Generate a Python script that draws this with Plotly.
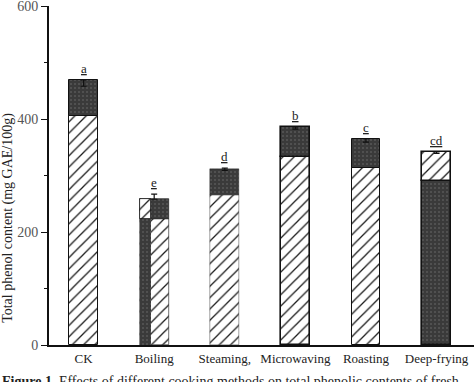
import plotly.graph_objects as go

categories = ["CK", "Boiling", "Steaming,", "Microwaving", "Roasting", "Deep-frying"]
lower_part = [405, 223, 266, 333, 313, 290]
total = [469, 258, 311, 386, 365, 342]
err_up = [0, 9, 2, 0, 0, 0]
err_down = [11, 0, 2, 4, 6, 3]
letters = ["a", "e", "d", "b", "c", "cd"]
# style of each segment: "h" = hatched, "d" = dark dotted
lower_style = ["h", "h", "h", "h", "h", "d"]
upper_style = ["d", "d", "d", "d", "d", "h"]
# Boiling left strip: dark lower, hatched upper
boil_left_lower = [223]
boil_left_total = [258]

upper_part = [t - l for t, l in zip(total, lower_part)]

DARK_BG = "#3a3a3a"
DARK_FG = "#575757"


def style(kinds):
    shapes = ["/" if k == "h" else "." for k in kinds]
    fg = ["#1a1a1a" if k == "h" else DARK_FG for k in kinds]
    bg = ["white" if k == "h" else DARK_BG for k in kinds]
    size = [8 if k == "h" else 4 for k in kinds]
    sol = [0.16 if k == "h" else 0.2 for k in kinds]
    return dict(shape=shapes, fgcolor=fg, bgcolor=bg, size=size, solidity=sol, fillmode="replace")


BW = 0.41
line_w = [1, 0.6, 0.4, 1.6, 1, 1.6]

fig = go.Figure()
fig.add_trace(go.Bar(
    x=categories, y=lower_part, base=[0] * 6, width=BW,
    marker=dict(color="white", pattern=style(lower_style),
                line=dict(color="#111", width=line_w)),
    showlegend=False,
))
fig.add_trace(go.Bar(
    x=categories, y=upper_part, base=lower_part, width=BW,
    marker=dict(color=DARK_BG, pattern=style(upper_style),
                line=dict(color="#111", width=line_w)),
    error_y=dict(type="data", symmetric=False, array=err_up, arrayminus=err_down,
                 color="#111", thickness=1.2, width=3),
    showlegend=False,
))
# Boiling left strip overlays
fig.add_trace(go.Bar(
    x=["Boiling"], y=boil_left_lower, base=[0], width=[0.155], offset=[-0.205],
    marker=dict(color=DARK_BG, pattern=style(["d"]), line=dict(width=0)),
    showlegend=False,
))
fig.add_trace(go.Bar(
    x=["Boiling"], y=[t - l for t, l in zip(boil_left_total, boil_left_lower)],
    base=boil_left_lower, width=[0.155], offset=[-0.205],
    marker=dict(color="white", pattern=style(["h"]), line=dict(color="#111", width=0.8)),
    showlegend=False,
))

for c, t, e, lt in zip(categories, total, err_up, letters):
    fig.add_annotation(x=c, y=t + e, text="<u>" + lt + "</u>", showarrow=False,
                       yanchor="bottom", yshift=2,
                       font=dict(family="Liberation Serif", size=13, color="#222"))

fig.add_annotation(xref="paper", yref="paper", x=-0.0965, y=0.375,
                   text="Total phenol content (mg GAE/100g)", textangle=-90,
                   showarrow=False, xanchor="center", yanchor="middle",
                   font=dict(family="Liberation Serif", size=14, color="#222"))

fig.add_annotation(xref="paper", yref="paper", x=-0.115, y=-0.08,
                   xanchor="left", yanchor="top", showarrow=False, align="left",
                   text="<b>Figure 1.</b> Effects of different cooking methods on total phenolic contents of fresh",
                   font=dict(family="Liberation Serif", size=14, color="#222"))

fig.update_layout(
    width=474, height=382,
    margin=dict(l=49, r=0, t=6, b=37, autoexpand=False),
    plot_bgcolor="white", paper_bgcolor="white",
    barmode="overlay", bargap=0,
    font=dict(family="Liberation Serif", size=13, color="#333"),
)
fig.update_xaxes(range=[-0.49, 5.53], showline=True, linecolor="#111", linewidth=2,
                 ticks="", showgrid=False, zeroline=False, automargin=False,
                 tickfont=dict(family="Liberation Serif", size=13, color="#222"))
fig.update_yaxes(range=[0, 600], tickvals=[0, 200, 400, 600], showline=True,
                 linecolor="#111", linewidth=2, ticks="outside", ticklen=6, tickwidth=1.2,
                 tickcolor="#111", showgrid=False, zeroline=False, automargin=False,
                 ticklabeloverflow="allow",
                 minor=dict(ticks="outside", ticklen=3, tickvals=[100, 300, 500], tickcolor="#111"),
                 tickfont=dict(family="Liberation Serif", size=14, color="#555"))

fig.write_html("out.html", config={"displayModeBar": False},
               post_script="document.body.style.margin='0px';document.body.style.overflow='hidden';")
